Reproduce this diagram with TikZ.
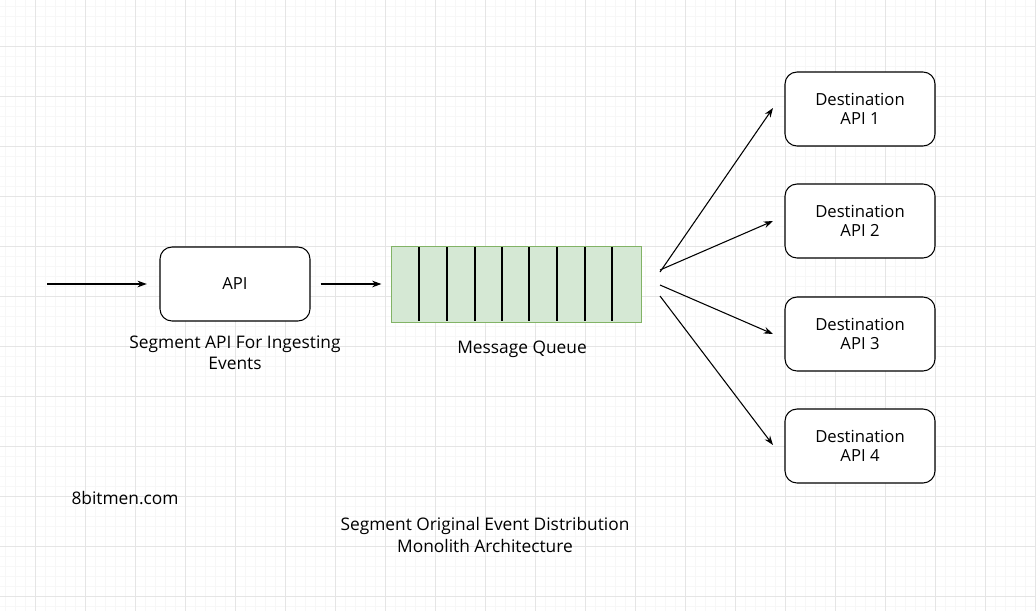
\documentclass[tikz,border=0pt]{standalone}
\usepackage{fontspec}
\setmainfont{Open Sans}
\usetikzlibrary{arrows.meta}
\definecolor{qfill}{HTML}{D5E8D4}
\definecolor{qline}{HTML}{82B366}
\begin{document}
\begin{tikzpicture}[x=0.75pt,y=-0.75pt,
  box/.style={draw=black,rounded corners=9pt,fill=white,minimum width=112.5pt,minimum height=55.5pt,align=center,font=\fontsize{12.5}{14}\selectfont,line width=0.8pt},
  lbl/.style={align=center,font=\fontsize{13}{16}\selectfont},
  arr/.style={-{Stealth[length=7pt,width=5pt]},line width=0.8pt}]
\useasboundingbox (0,0) rectangle (1036,611);
\fill[white] (0,0) rectangle (1036,611);
\foreach \i in {0,...,104} \draw[black!3,line width=0.4pt] (5+10*\i,0) -- (5+10*\i,611);
\foreach \i in {0,...,61} \draw[black!3,line width=0.4pt] (0,6+10*\i) -- (1036,6+10*\i);
\foreach \i in {0,...,20} \draw[black!10,line width=0.5pt] (35+50*\i,0) -- (35+50*\i,611);
\foreach \i in {0,...,12} \draw[black!10,line width=0.5pt] (0,46+50*\i) -- (1036,46+50*\i);
\node[box] (api) at (235,284) {API};
\node[draw=qline,fill=qfill,minimum width=188pt,minimum height=57pt,inner sep=0pt,line width=0.6pt] (q) at (516.5,284) {};
\foreach \x in {419,447,475,502,529,557,585,612} \draw[line width=0.9pt] (\x,247) -- (\x,321);
\node[box] (d1) at (860,109) {Destination\\API 1};
\node[box] (d2) at (860,221) {Destination\\API 2};
\node[box] (d3) at (860,334) {Destination\\API 3};
\node[box] (d4) at (860,446) {Destination\\API 4};
\coordinate (in) at (47,284);
\draw[arr,shorten >=9.5pt] (in) -- (api);
\draw[arr,shorten <=7.5pt,shorten >=7pt] (api) -- (q);
\draw[arr] (660,272) -- (773,108);
\draw[arr] (660,270) -- (773,221);
\draw[arr] (660,285) -- (773,334);
\draw[arr] (660,296) -- (773,445);
\node[lbl] (l1) at (235,353) {Segment API For Ingesting\\Events};
\node[lbl] (l2) at (522,349) {Message Queue};
\node[lbl] (l3) at (125,498) {8bitmen.com};
\node[lbl] (l4) at (485,535) {Segment Original Event Distribution\\Monolith Architecture};
\end{tikzpicture}
\end{document}
